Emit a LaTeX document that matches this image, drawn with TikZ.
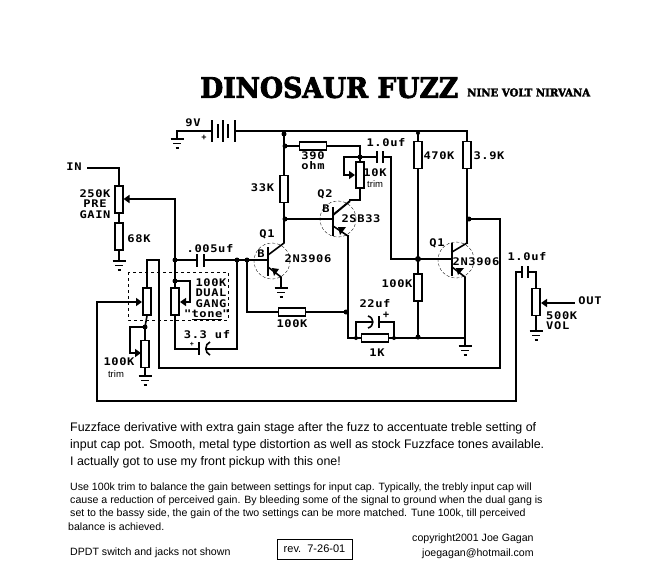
\documentclass[tikz,border=0pt]{standalone}
\usepackage{fontspec}
\usepackage{graphicx}
\setmainfont{Liberation Sans}
\newfontfamily\schfont[LetterSpace=6,FakeStretch=1.15]{DejaVu Sans Mono}
\newfontfamily\titlefont[FakeBold=3]{DejaVu Serif}
\usetikzlibrary{arrows.meta}
\tikzset{
 wire/.style={line width=1.6pt,line cap=rect,line join=miter},
 resbox/.style={draw,line width=1.6pt,fill=white,minimum width=8.5pt,minimum height=27pt,inner sep=0pt},
 hresbox/.style={draw,line width=1.6pt,fill=white,minimum width=27pt,minimum height=8.5pt,inner sep=0pt},
 jdot/.style={circle,fill=black,inner sep=0pt,minimum size=5pt},
 lab/.style={font=\schfont\bfseries\fontsize{10.5}{10.3}\selectfont,inner sep=0pt,align=center},
 body/.style={font=\fontsize{12.42}{14}\selectfont,inner sep=0pt,anchor=west},
 small/.style={font=\fontsize{10.6}{12}\selectfont,inner sep=0pt,anchor=west},
 wiper/.style={wire,-{Triangle[length=6pt,width=8pt]}},
 circ/.style={draw,densely dashed,line width=.35pt,circle,minimum size=36pt,inner sep=0pt},
 plate/.style={line width=1.6pt},
 gnddraw/.pic={\draw[line width=1.3pt] (-6.5,0)--(6.5,0);\draw[line width=1.2pt] (-4,4.5)--(4,4.5);\draw[line width=1.2pt] (-1.5,9)--(1.5,9);}
}
\begin{document}
\begin{tikzpicture}[x=1pt,y=-1pt]
\useasboundingbox (0,0) rectangle (672,576);
% title
\node[inner sep=0pt,anchor=west] (title) at (200,87.5) {\resizebox{258pt}{21pt}{\titlefont\bfseries DINOSAUR FUZZ}};
\node[inner sep=0pt,anchor=west] (sub) at (467,92.5) {\resizebox{123pt}{8pt}{\titlefont\bfseries NINE VOLT NIRVANA}};

% named points
\coordinate (bl) at (212,131);\coordinate (br) at (235,131);
\coordinate (gb) at (177,131);
\coordinate (top1) at (284,131);\coordinate (top2) at (418,131);\coordinate (top3) at (467,131);
% battery
\draw[wire] (gb)--(bl) (br)--(top3);
\draw[wire] (gb)--(177,139);
\foreach \x/\h in {212/11,218/7,223/11,228/7,235/11}{\draw[line width=1.3pt] (\x,131-\h)--(\x,131+\h);}
\pic at (177,139) {gnddraw};
\node[lab] (v9) at (193,123) {9V};
\node[font=\bfseries\fontsize{9}{9}\selectfont,inner sep=0pt] (plus) at (204,138) {+};

% input
\node[lab] (in) at (74,167) {IN};
\coordinate (inr) at (88,168);
\node[resbox] (pre) at (119,199.5) {};
\node[resbox] (r68) at (119,236.5) {};
\draw[wire] (inr)-|(pre.north);
\draw[wire] (pre.south)--(r68.north);
\draw[wire] (r68.south)--(119,261);
\pic at (119,261) {gnddraw};
\node[lab] (lpre) at (95,204) {250K\\PRE\\GAIN};
\node[lab] (l68) at (139,239) {68K};
\node[jdot] (jw) at (175,260) {};
\node[jdot] (jt) at (175,281) {};
\draw[wiper] (175,199)--(123.5,199);
\draw[wire] (175,199)--(jt.center);
% input cap
\draw[wire] (jw.center)--(197,260);
\draw[plate] (197,254)--(197,267);\draw[plate] (204,254)--(204,267);
\node[lab] (l005) at (210,249) {.005uf};
\node[jdot] (j1) at (237,260) {};
\node[jdot] (j2) at (247,260) {};
\draw[wire] (204,260)--(268,260);
% tone pot
\node[resbox] (tone) at (175,301.5) {};
\draw[wire] (jt.center)--(tone.north);
\draw[wire] (jt.center)--(190,281)--(190,302);
\draw[wiper] (190,302)--(180,302);
\draw[wire] (tone.south)--(175,349)--(199,349);
\draw[plate] (199,342)--(199,355);
\draw[plate] (210,342) .. controls (204.5,344) and (204.5,353) .. (210,355);
\draw[wire] (206,349)--(237,349)--(j1.center);
\node[lab] (ltone) at (211,293) {100K\\DUAL\\GANG};
\node[lab] (ltone2) at (207,314.5) {"\underline{tone}"};
\node[lab] (l33) at (207,334.5) {3.3 uf};
\node[font=\bfseries\fontsize{7}{7}\selectfont,inner sep=0pt] (p33) at (192,344.5) {+};
% dashed gang
\draw[dashed,line width=.8pt] (128,272) rectangle (228,320);
% gang pot
\node[resbox] (gang) at (147,301.5) {};
\node[jdot] (jg) at (145,327) {};
\node[resbox] (trim) at (145,354) {};
\draw[wire] (gang.south)--(jg.center)--(trim.north);
\draw[wire] (gang.north)--(147,260)--(159,260)--(159,368)--(500,368)--(500,219)--(470,219);
\draw[wire] (jg.center)--(130,327)--(130,353);
\draw[wiper] (130,353)--(141,353);
\draw[wire] (trim.south)--(145,375);
\pic at (145,376) {gnddraw};
\node[lab] (l100t) at (119,362) {100K};
\node[font=\fontsize{9.5}{10}\selectfont,inner sep=0pt] (ltrim) at (116,374) {trim};
% return
\draw[wiper] (97,302)--(142,302);
\draw[wire] (97,302)--(97,401)--(516,401)--(516,272)--(522,272);
\draw[plate] (522,266)--(522,278);\draw[plate] (528,266)--(528,278);
\draw[wire] (528,272)--(536,272)--(536,288);
\node[resbox] (vol) at (536,302) {};
\draw[wire] (vol.south)--(536,331);
\pic at (536,331) {gnddraw};
\draw[wiper] (574,303)--(541,303);
\node[lab] (lout) at (590,301) {OUT};
\node[lab,anchor=west] (l500) at (546,315.5) {500K};
\node[lab,anchor=west] (lvol) at (546,326) {VOL};
\node[lab] (l10r) at (527,257) {1.0uf};

% Q1 left
\node[circ] (q1) at (272,261) {};
\draw[line width=2pt] (268,247)--(268,276);
\draw[wire] (268,255)--(284,243)--(top1);
\draw[wire] (268,267)--(281,277)--(281,288);
\fill (272,268)--(279,269)--(274,276)--cycle;
\pic at (281,288) {gnddraw};
\node[lab] (b1) at (261,254) {B};
\node[lab] (nq1) at (267,234) {Q1};
\node[lab] (n1) at (308,259) {2N3906};
% 33K
\node[resbox] (r33) at (284,189) {};
\node[lab] (l33k) at (262.5,188) {33K};
\node[jdot] (jtop) at (284,134) {};
\node[jdot] (j390) at (285,146) {};
\node[jdot] (jb2) at (285,219) {};
% 390
\node[hresbox] (r390) at (313,146) {};
\draw[wire] (j390.center)--(r390.west);
\draw[wire] (r390.east)--(360,146)--(360,162);
\node[lab] (l390) at (313,161) {390\\ohm};
% Q2
\node[circ] (q2) at (338,219) {};
\draw[line width=2pt] (333,207)--(333,236);
\draw[wire] (jb2.center)--(333,219);
\draw[line width=2pt] (333,215)--(350,201);
\draw[wire] (333,226)--(348,236);
\fill (338,227)--(346,227)--(340,235)--cycle;
\node[lab] (nq2) at (325,194) {Q2};
\node[lab] (b2) at (326,209) {B};
\node[lab] (n2) at (361,219) {2SB33};
% 10K trim
\node[jdot] (jtr) at (360,157) {};
\node[resbox,minimum height=26pt] (t10) at (360,175) {};
\draw[wire] (t10.south)--(360,200)--(350,200);
\draw[wire] (jtr.center)--(344,157)--(344,175);
\draw[wiper] (344,175)--(355,175);
\node[lab] (l10) at (375,172.5) {10K};
\node[font=\fontsize{9.5}{10}\selectfont,inner sep=0pt,anchor=west] (ltr) at (367,184) {trim};
% 1uf cap
\draw[wire] (jtr.center)--(377,157);
\draw[plate] (377,151)--(377,163);\draw[plate] (383,151)--(383,163);
\draw[wire] (383,157)--(391,157)--(391,259)--(452,259);
\node[lab] (l10u) at (386,143) {1.0uf};
% Q2 emitter
\node[jdot] (j100) at (346,312) {};
\draw[wire] (348,236)--(348,338)--(362,338);
\node[hresbox] (r100) at (292,312) {};
\draw[wire] (247,260)--(247,312)--(r100.west);
\draw[wire] (r100.east)--(j100.center);
\node[lab] (l100) at (292,324) {100K};
% 1K
\node[hresbox] (r1k) at (375,338) {};
\node[jdot,minimum size=4pt] (j1ka) at (356,338) {};
\node[jdot,minimum size=4pt] (j1kb) at (394,338) {};
\draw[wire] (r1k.east)--(465,338);
\draw[wire] (j1ka.center)--(356,322)--(372,322);
\draw[plate] (368,316) .. controls (374.5,318) and (374.5,326) .. (368,328);
\draw[plate] (379,316)--(379,328);
\draw[wire] (380,322)--(394,322)--(j1kb.center);
\node[lab] (l22) at (375,304) {22uf};
\node[font=\bfseries\fontsize{11}{11}\selectfont,inner sep=0pt] (p22) at (386,315) {+};
\node[lab] (l1k) at (377,353) {1K};
% right stage
\node[resbox] (r470) at (418,155) {};
\node[jdot,minimum size=6pt] (jb3) at (418,259) {};
\node[resbox] (r100b) at (418,287.5) {};
\node[jdot] (jg3) at (418,337) {};
\node[jdot,minimum size=4pt] (jt2) at (418,133) {};
\draw[wire] (top2)--(r470.north);
\draw[wire] (r470.south)--(r100b.north);
\draw[wire] (r100b.south)--(418,338);
\node[lab] (l470) at (439,156) {470K};
\node[lab] (l100b) at (397,284) {100K};
\node[resbox] (r39) at (467,155) {};
\draw[wire] (top3)--(r39.north);
\draw[wire] (r39.south)--(467,243);
\node[lab] (l39) at (489,156) {3.9K};
\node[jdot] (j39) at (469,219) {};
\node[circ] (q3) at (456,260) {};
\draw[line width=2pt] (452,243)--(452,276);
\draw[wire] (452,252)--(467,243);
\draw[wire] (452,267)--(465,277)--(465,345);
\fill (456,268)--(464,268)--(458,275)--cycle;
\pic at (465,346) {gnddraw};
\node[lab] (nq3) at (437,243) {Q1};
\node[lab] (n3) at (476,262) {2N3906};

% body text
\node[body] (t1) at (70,428) {Fuzzface derivative with extra gain stage after the fuzz to accentuate treble setting of};
\node[body] (t2) at (70,445) {input cap pot. Smooth, metal type distortion as well as stock Fuzzface tones available.};
\node[body] (t3) at (70,462) {I actually got to use my front pickup with this one!};
\node[small] (s1) at (70,488) {Use 100k trim to balance the gain between settings for input cap. Typically, the trebly input cap will};
\node[small] (s2) at (70,501) {cause a reduction of perceived gain. By bleeding some of the signal to ground when the dual gang is};
\node[small] (s3) at (70,514) {set to the bassy side, the gain of the two settings can be more matched. Tune 100k, till perceived};
\node[small] (s4) at (68,527) {balance is achieved.};
\node[small] (s5) at (70,553) {DPDT switch and jacks not shown};
\node[draw,line width=.7pt,minimum width=75pt,minimum height=20pt,inner sep=0pt,font=\fontsize{11}{12}\selectfont] (rev) at (314.5,549) {rev.\ \ 7-26-01};
\node[small] (c1) at (412,539) {copyright2001 Joe Gagan};
\node[small] (c2) at (422,554) {joegagan@hotmail.com};
\end{tikzpicture}
\end{document}
